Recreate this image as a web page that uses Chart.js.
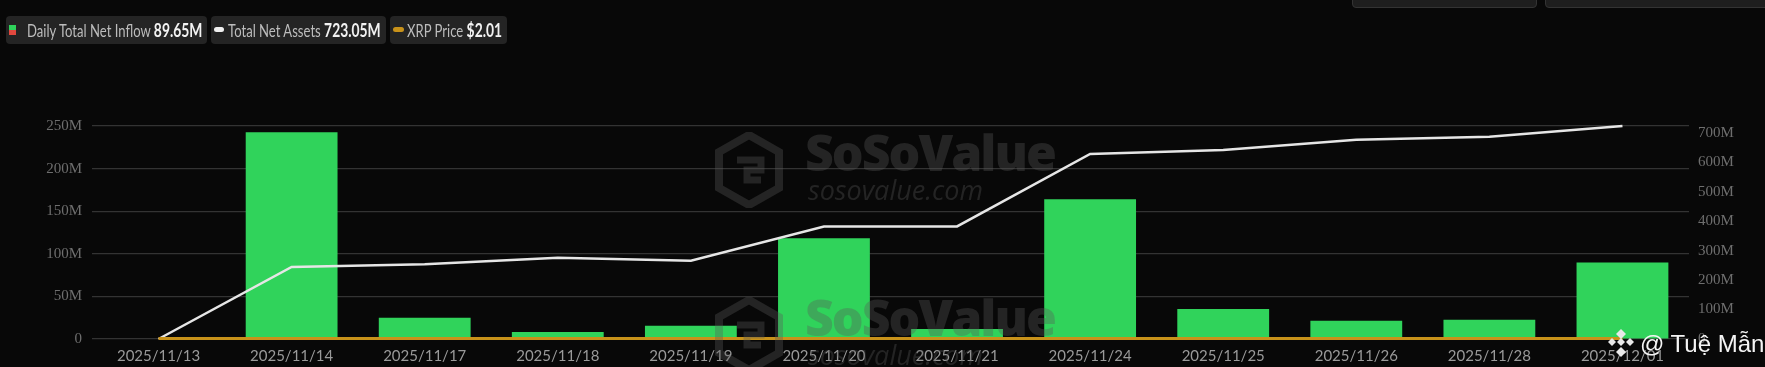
<!DOCTYPE html>
<html>
<head>
<meta charset="utf-8">
<script src="https://cdn.jsdelivr.net/npm/chart.js@4"></script>
<style>
  html, body { margin: 0; padding: 0; background: #080808; }
  #wrap { position: relative; width: 1765px; height: 367px; overflow: hidden; background: #080808; }
  #chart { position: absolute; left: 0; top: 0; }
  .leg { position: absolute; top: 16px; height: 28px; background: #242424; border-radius: 4px;
         font-family: Lato, "Noto Sans", sans-serif; font-size: 17px; color: #bdbdbd; line-height: 28px; white-space: nowrap; }
  .leg b { color: #f2f2f2; font-weight: 700; font-size: 18px; }
  .leg .txt { position: absolute; top: 0; transform: scaleX(0.77); transform-origin: 0 50%; }
  .ico { position: absolute; }
  .wm { position: absolute; color: rgba(90,90,90,0.35); font-family: "Open Sans", Lato, sans-serif; white-space: nowrap; pointer-events: none; }
  .topbox { position: absolute; top: -6px; height: 12px; background: #1e1e1e; border: 1px solid #333; border-radius: 4px; }
</style>
</head>
<body>
<div id="wrap">
  <canvas id="chart" width="1765" height="367"></canvas>

  <div class="topbox" style="left:1352px;width:183px"></div>
  <div class="topbox" style="left:1545px;width:230px"></div>

  <div class="leg" style="left:6px;width:201px">
    <span class="ico" style="left:3px;top:9px;width:7px;height:5px;background:#2fd35b"></span>
    <span class="ico" style="left:3px;top:14px;width:7px;height:5px;background:#e0483e"></span>
    <span class="txt" style="left:21px">Daily Total Net Inflow <b>89.65M</b></span>
  </div>
  <div class="leg" style="left:211px;width:175px">
    <span class="ico" style="left:3px;top:11px;width:10px;height:5px;background:#f0f0f0;border-radius:3px"></span>
    <span class="txt" style="left:17px">Total Net Assets <b>723.05M</b></span>
  </div>
  <div class="leg" style="left:390px;width:117px">
    <span class="ico" style="left:3px;top:11px;width:11px;height:5px;background:#c8921a;border-radius:3px"></span>
    <span class="txt" style="left:17px">XRP Price <b>$2.01</b></span>
  </div>

  <!-- watermarks -->
  <svg class="wm" style="left:715px;top:132px" width="68" height="76" viewBox="0 0 68 76">
    <polygon points="34,3 64,20 64,56 34,73 4,56 4,20" fill="none" stroke="rgba(90,90,90,0.35)" stroke-width="8"/>
    <path d="M22,28 h24 v10 h-14 v10 h14" fill="none" stroke="rgba(90,90,90,0.35)" stroke-width="7"/>
  </svg>
  <div class="wm" style="left:805px;top:118px;font-size:50px;font-weight:800;letter-spacing:-2px">SoSoValue</div>
  <div class="wm" style="left:808px;top:171px;font-size:27px;font-style:italic">sosovalue.com</div>
  <svg class="wm" style="left:715px;top:297px" width="68" height="76" viewBox="0 0 68 76">
    <polygon points="34,3 64,20 64,56 34,73 4,56 4,20" fill="none" stroke="rgba(90,90,90,0.35)" stroke-width="8"/>
    <path d="M22,28 h24 v10 h-14 v10 h14" fill="none" stroke="rgba(90,90,90,0.35)" stroke-width="7"/>
  </svg>
  <div class="wm" style="left:805px;top:283px;font-size:50px;font-weight:800;letter-spacing:-2px">SoSoValue</div>
  <div class="wm" style="left:808px;top:336px;font-size:27px;font-style:italic">sosovalue.com</div>

  <svg style="position:absolute;left:1606px;top:328px" width="30" height="30" viewBox="0 0 30 30">
    <g fill="#e8e8e8">
      <polygon points="15,1 20,6 15,11 10,6"/>
      <polygon points="6,10 10,14 6,18 2,14"/>
      <polygon points="24,10 28,14 24,18 20,14"/>
      <polygon points="15,10 19,14 15,18 11,14"/>
      <polygon points="15,19 20,24 15,29 10,24"/>
    </g>
  </svg>
  <div style="position:absolute;left:1640px;top:330px;font-family:'Liberation Sans',Arial,sans-serif;font-size:24px;color:#f4f4f4;white-space:nowrap">@ Tuệ Mẫn</div>
</div>

<script>
// values in millions USD
const dates = ['2025/11/13', '2025/11/14', '2025/11/17', '2025/11/18', '2025/11/19', '2025/11/20',
               '2025/11/21', '2025/11/24', '2025/11/25', '2025/11/26', '2025/11/28', '2025/12/01'];
const netInflow = [0, 242.6, 25.0, 8.2, 15.6, 118.2, 11.7, 164.0, 35.2, 21.5, 22.7, 89.65];
const netAssets = [0, 244.5, 253.6, 276.0, 266.0, 382.0, 382.0, 628.0, 641.5, 676.0, 686.5, 723.05];
const xrpPrice = [2.40, 2.28, 2.15, 2.23, 2.10, 1.99, 1.95, 2.20, 2.21, 2.19, 2.19, 2.01];

const leftTicks = [0, 50, 100, 150, 200, 250];
const rightTicks = [0, 100, 200, 300, 400, 500, 600, 700];

function fmtM(v) {
    return v === 0 ? '0' : v + 'M';
}

new Chart(document.getElementById('chart'), {
    data: {
        labels: dates,
        datasets: [
            {
                type: 'line',
                label: 'XRP Price',
                data: xrpPrice,
                yAxisID: 'y2',
                borderColor: '#c8921a',
                borderWidth: 3,
                pointRadius: 0,
                tension: 0,
                clip: false,
                order: 0
            },
            {
                type: 'line',
                label: 'Total Net Assets',
                data: netAssets,
                yAxisID: 'y1',
                borderColor: '#e6e6e6',
                borderWidth: 2.5,
                pointRadius: 0,
                tension: 0,
                clip: false,
                order: 1
            },
            {
                type: 'bar',
                label: 'Daily Total Net Inflow',
                data: netInflow,
                yAxisID: 'y',
                backgroundColor: '#30d35b',
                barPercentage: 0.69,
                categoryPercentage: 1,
                order: 2
            }
        ]
    },
    options: {
        responsive: false,
        animation: false,
        layout: { padding: { top: 126, left: 0, right: 0, bottom: 0 } },
        plugins: {
            legend: { display: false },
            tooltip: { enabled: false }
        },
        scales: {
            x: {
                grid: { display: false, drawTicks: false },
                border: { display: false },
                ticks: {
                    color: '#9a9a9a',
                    font: { family: 'Lato', size: 15 },
                    padding: 8,
                    maxRotation: 0,
                    autoSkip: false
                },
                afterFit: (s) => { s.height = 28; }
            },
            y: {
                position: 'left',
                min: 0,
                max: 250,
                afterBuildTicks: (s) => { s.ticks = leftTicks.map(v => ({ value: v })); },
                grid: { color: '#333333', lineWidth: 1.2, drawTicks: false },
                border: { display: false },
                ticks: {
                    color: '#6e6e6e',
                    font: { family: 'Liberation Serif', size: 15 },
                    padding: 10,
                    callback: fmtM
                },
                afterFit: (s) => { s.width = 92; }
            },
            y1: {
                position: 'right',
                min: 0,
                max: 723.05,
                afterBuildTicks: (s) => { s.ticks = rightTicks.map(v => ({ value: v })); },
                grid: { display: false, drawTicks: false },
                border: { display: false },
                ticks: {
                    color: '#6e6e6e',
                    font: { family: 'Liberation Serif', size: 15 },
                    padding: 9,
                    callback: fmtM
                },
                afterFit: (s) => { s.width = 76; }
            },
            y2: {
                display: false,
                min: 0,
                max: 1000
            }
        }
    }
});
</script>
</body>
</html>
